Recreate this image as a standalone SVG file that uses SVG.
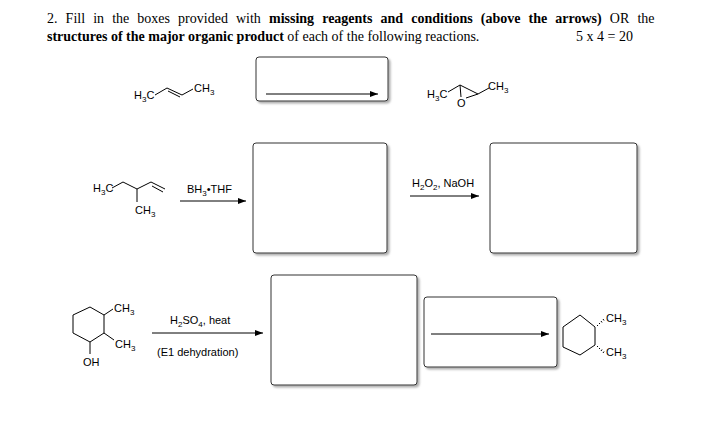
<svg xmlns="http://www.w3.org/2000/svg" width="727" height="439" viewBox="0 0 727 439">
<defs>
<marker id="ah" markerWidth="8" markerHeight="6" refX="8" refY="3" orient="auto" markerUnits="userSpaceOnUse"><path d="M0,0 L8,3 L0,6 Z" fill="#000"/></marker>
<filter id="sh" x="-5%" y="-5%" width="115%" height="115%"><feDropShadow dx="2" dy="2" stdDeviation="1.2" flood-color="#888" flood-opacity="0.7"/></filter>
</defs>
<style>
.hd{font-family:"Liberation Serif",serif;font-size:14px;fill:#000}
.c{font-family:"Liberation Sans",Arial,sans-serif;font-size:11px;fill:#000}
.s{font-size:8px}
.b{fill:none;stroke:#000;stroke-width:1}
.box{fill:#fff;stroke:#333;stroke-width:1;filter:url(#sh)}
.ar{stroke:#000;stroke-width:1;marker-end:url(#ah)}
</style>
<rect width="727" height="439" fill="#fff"/>
<g id="header">
<text class="hd" x="47" y="23" word-spacing="4.6">2.  Fill in the boxes provided with <tspan font-weight="bold">missing reagents and conditions (above the arrows)</tspan> OR the</text>
<text class="hd" x="47" y="41"><tspan font-weight="bold">structures of the major organic product</tspan> of each of the following reactions.</text>
<text class="hd" x="576" y="41">5 x 4 = 20</text>
</g>
<g id="boxes">
<rect id="box1" class="box" x="256" y="57" width="132" height="44" rx="3"/>
<rect id="box2" class="box" x="253" y="143" width="134" height="110" rx="3"/>
<rect id="box3" class="box" x="490" y="143" width="147" height="110" rx="3"/>
<rect id="box4" class="box" x="271" y="275" width="146" height="110" rx="3"/>
<rect id="box5" class="box" x="424" y="297" width="133" height="70" rx="3"/>
</g>
<g id="connectors">
<line class="ar" x1="266" y1="94" x2="378" y2="94"/>
<line class="ar" x1="180" y1="201" x2="246" y2="201"/>
<line class="ar" x1="410" y1="196" x2="479" y2="196"/>
<line class="ar" x1="152" y1="333" x2="263" y2="333"/>
<line class="ar" x1="431" y1="334" x2="549" y2="334"/>
</g>
<g id="mol1">
<text class="c" x="134" y="99">H<tspan class="s" dy="3">3</tspan><tspan dy="-3">C</tspan></text>
<path class="b" d="M155,95 L167,88 L182,95 L193,89"/>
<line class="b" x1="168" y1="91" x2="180" y2="97"/>
<text class="c" x="194" y="92">CH<tspan class="s" dy="3">3</tspan></text>
</g>
<g id="mol2">
<text class="c" x="427" y="98">H<tspan class="s" dy="3">3</tspan><tspan dy="-3">C</tspan></text>
<path class="b" d="M448,92 L460,85 L478,94 L489,88"/>
<path class="b" d="M460,85 L461,97 M466,98 L478,94"/>
<text class="c" x="457" y="107">O</text>
<text class="c" x="488" y="90">CH<tspan class="s" dy="3">3</tspan></text>
</g>
<g id="mol3">
<text class="c" x="93" y="192">H<tspan class="s" dy="3">3</tspan><tspan dy="-3">C</tspan></text>
<path class="b" d="M112,188 L123,182 L137,189 L151,182 L165,189 M137,189 L137,202"/>
<line class="b" x1="152" y1="186" x2="163" y2="192"/>
<text class="c" x="135" y="214">CH<tspan class="s" dy="3">3</tspan></text>
<text class="c" x="187" y="193">BH<tspan class="s" dy="3">3</tspan><tspan dy="-3">•THF</tspan></text>
<text class="c" x="412" y="187">H<tspan class="s" dy="3">2</tspan><tspan dy="-3">O</tspan><tspan class="s" dy="3">2</tspan><tspan dy="-3">, NaOH</tspan></text>
</g>
<g id="mol4">
<path class="b" d="M90,307 L104,315 L104,333 L90,342 L73,333 L73,315 Z M104,315 L113,309 M104,333 L114,340 M90,342 L90,354"/>
<text class="c" x="114" y="312">CH<tspan class="s" dy="3">3</tspan></text>
<text class="c" x="115" y="348">CH<tspan class="s" dy="3">3</tspan></text>
<text class="c" x="83" y="366">OH</text>
<text class="c" x="170" y="324">H<tspan class="s" dy="3">2</tspan><tspan dy="-3">SO</tspan><tspan class="s" dy="3">4</tspan><tspan dy="-3">, heat</tspan></text>
<text class="c" x="157" y="356">(E1 dehydration)</text>
</g>
<g id="mol5">
<path class="b" d="M580,315 L595,327 L595,345 L580,355 L563,347 L563,327 Z"/>
<path class="b" d="M597,325 L598,326 M599,323 L600,324 M601,321 L602,322.5 M603,319 L604,320.5"/>
<path class="b" d="M597,347 L598,346 M599,349 L600,348 M601,351 L602,349.5 M603,353 L604,351.5"/>
<text class="c" x="606" y="322">CH<tspan class="s" dy="3">3</tspan></text>
<text class="c" x="606" y="356">CH<tspan class="s" dy="3">3</tspan></text>
</g>
</svg>
